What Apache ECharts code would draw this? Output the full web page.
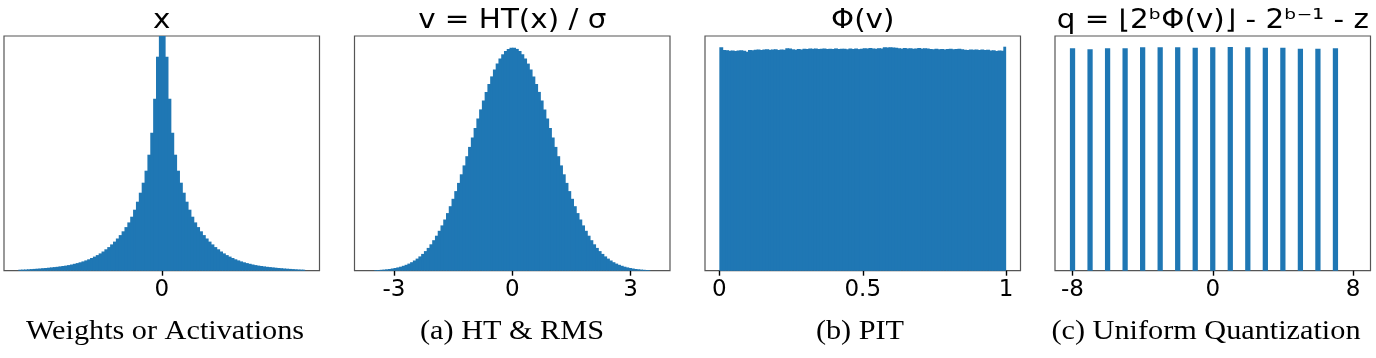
<!DOCTYPE html>
<html>
<head>
<meta charset="utf-8">
<script src="https://cdn.jsdelivr.net/npm/echarts@6/dist/echarts.min.js"></script>
<style>html,body{margin:0;padding:0;background:#fff;}#c{width:1376px;height:358px;}</style>
</head>
<body>
<div id="c"></div>
<script>
// ---------- DATA ----------
const titles = ['x', 'v = HT(x) / σ', 'Φ(v)', 'q = ⌊2ᵇΦ(v)⌋ - 2ᵇ⁻¹ - z'];
const captions = ['Weights or Activations', '(a) HT & RMS', '(b) PIT', '(c) Uniform Quantization'];

// panel 1: heavy-tailed weights/activations (100 bins over [-1, 1]); centre bins exceed the frame
const xBinRange = [-1, 1];
const xCounts = [1.0,1.1,1.2,1.4,1.6,1.8,2.0,2.2,2.5,2.7,3.0,3.3,3.6,3.9,4.3,4.7,5.1,5.6,6.2,6.9,
  7.6,8.4,9.3,10.3,11.4,12.7,14.1,15.6,17.3,19.2,21.4,23.6,26.3,29.1,32.2,35.6,39.4,43.6,48.3,54,
  61,69,78,88,100,116,138,172,214,300,
  300,214,172,138,116,100,88,78,69,61,54,48.3,43.6,39.4,35.6,32.2,29.1,26.3,23.6,21.4,
  19.2,17.3,15.6,14.1,12.7,11.4,10.3,9.3,8.4,7.6,6.9,6.2,5.6,5.1,4.7,4.3,3.9,3.6,3.3,3.0,
  2.7,2.5,2.2,2.0,1.8,1.6,1.4,1.2,1.1,1.0];
const xTicks = [0];

// panel 2: after Hadamard transform & RMS normalisation (100 bins over [-3.5, 3.5])
const vBinRange = [-3.5, 3.5];
const vCounts = [0.6,0.7,0.9,1.1,1.4,1.7,2.2,2.7,3.3,4.0,4.9,5.9,7.1,8.5,10.2,12.1,14.3,16.8,19.6,22.8,
  26.4,30.5,35.0,39.9,45.3,51.2,57.6,64.5,71.9,79.6,87.8,96.4,105.3,114.5,123.8,133.2,142.7,152.1,161.3,170.2,
  178.8,186.8,194.3,201.1,207.1,212.2,216.4,219.6,221.8,222.9,
  222.9,221.8,219.6,216.4,212.2,207.1,201.1,194.3,186.8,178.8,170.2,161.3,152.1,142.7,133.2,123.8,114.5,105.3,96.4,87.8,
  79.6,71.9,64.5,57.6,51.2,45.3,39.9,35.0,30.5,26.4,22.8,19.6,16.8,14.3,12.1,10.2,8.5,7.1,5.9,4.9,
  4.0,3.3,2.7,2.2,1.7,1.4,1.1,0.9,0.7,0.6];
const vTicks = [-3, 0, 3];

// panel 3: probability integral transform (100 bins over [0, 1])
const pBinRange = [0, 1];
const pCounts = [223.4,220.7,220.5,220.0,220.3,219.8,220.1,220.4,219.9,219.0,
  220.7,220.5,221.0,221.3,220.8,221.2,221.5,220.9,221.1,221.4,
  220.8,221.2,221.0,222.4,222.2,221.4,221.0,221.6,221.3,222.0,
  221.8,222.3,221.9,222.1,221.7,221.9,222.2,221.6,222.0,221.8,
  222.3,221.7,222.0,221.9,221.5,222.1,221.8,222.2,221.6,221.9,
  222.4,222.1,222.6,222.3,222.0,222.5,222.2,223.4,223.1,223.5,
  223.2,223.0,222.4,222.1,222.6,222.2,222.5,222.0,222.3,222.6,
  222.1,222.4,222.2,221.7,221.4,221.9,221.5,221.8,221.3,221.7,
  222.0,221.5,221.6,221.9,221.4,221.0,220.7,221.2,220.9,221.3,
  220.8,221.1,220.6,221.0,220.2,220.5,219.8,220.3,220.0,224.0];
const pTicks = [0, 0.5, 1];

// panel 4: uniform quantization levels
const qLevels = [-8,-7,-6,-5,-4,-3,-2,-1,0,1,2,3,4,5,6,7];
const qCounts = [222.4,221.4,222.4,222.4,223.4,223.4,223.4,223.0,223.4,223.7,223.4,223.0,223.0,222.0,222.0,222.4];
const qTicks = [-8, 0, 8];

// ---------- LAYOUT / STYLE ----------
const BLUE = '#1f77b4';
const gridLeft = [4, 354.5, 705, 1055];
const gridWidth = 315.5;
const gridTop = 36, gridBottom = 87.3;
const xRanges = [[-1.1, 1.1], [-4, 4], [-0.05, 1.05], [-9, 9]];
const yMax = 234.7;
const qBarWidth = 0.3;

function histData(range, counts) {
  const w = (range[1] - range[0]) / counts.length;
  return counts.map((c, i) => [range[0] + i * w, range[0] + (i + 1) * w, c]);
}
const seriesData = [
  histData(xBinRange, xCounts),
  histData(vBinRange, vCounts),
  histData(pBinRange, pCounts),
  qLevels.map((l, i) => [l - qBarWidth / 2, l + qBarWidth / 2, qCounts[i]])
];
const tickSets = [xTicks, vTicks, pTicks, qTicks];

function renderItem(params, api) {
  const p0 = api.coord([api.value(0), api.value(2)]);
  const p1 = api.coord([api.value(1), 0]);
  const cs = params.coordSys;
  const isLast = params.dataIndex === params.dataInsideLength - 1;
  const overlap = (params.seriesIndex === 3 || isLast) ? 0 : 1;
  const rect = echarts.graphic.clipRectByRect(
    {x: p0[0], y: p0[1], width: p1[0] - p0[0] + overlap, height: p1[1] - p0[1]},
    {x: cs.x, y: cs.y, width: cs.width, height: cs.height});
  if (!rect) return;
  return {type: 'rect', shape: rect, style: {fill: BLUE}};
}

const grids = [], xAxes = [], yAxes = [], series = [], graphics = [];
for (let i = 0; i < 4; i++) {
  grids.push({left: gridLeft[i], width: gridWidth, top: gridTop, bottom: gridBottom,
    show: true, borderColor: '#555', borderWidth: 1.2, backgroundColor: 'transparent', containLabel: false});
  xAxes.push({type: 'value', gridIndex: i, min: xRanges[i][0], max: xRanges[i][1],
    axisLine: {show: false}, splitLine: {show: false},
    axisTick: {show: true, length: 5, lineStyle: {color: '#000', width: 1.4}, customValues: tickSets[i]},
    axisLabel: {show: true, customValues: tickSets[i], margin: 8, color: '#000',
      fontFamily: 'DejaVu Sans', fontSize: 23, formatter: v => String(v)}});
  yAxes.push({type: 'value', gridIndex: i, min: 0, max: yMax, show: false});
  series.push({type: 'custom', xAxisIndex: i, yAxisIndex: i, renderItem: renderItem,
    data: seriesData[i], encode: {x: [0, 1], y: 2}, silent: true, animation: false});
  const cx = gridLeft[i] + gridWidth / 2;
  graphics.push({type: 'text', x: cx, y: 21, scaleX: 1.13,
    style: {text: titles[i], fill: '#000', font: '26px "DejaVu Sans"', textAlign: 'center', textVerticalAlign: 'middle'}});
}
const captionX = [165, 512, 860, 1206];
for (let i = 0; i < 4; i++) {
  graphics.push({type: 'text', x: captionX[i], y: 332, scaleX: 1.12,
    style: {text: captions[i], fill: '#000', font: '27px "Liberation Serif"', textAlign: 'center', textVerticalAlign: 'middle'}});
}

const chart = echarts.init(document.getElementById('c'), null, {renderer: 'canvas'});
chart.setOption({animation: false, grid: grids, xAxis: xAxes, yAxis: yAxes,
  series: series, graphic: graphics});
</script>
</body>
</html>
